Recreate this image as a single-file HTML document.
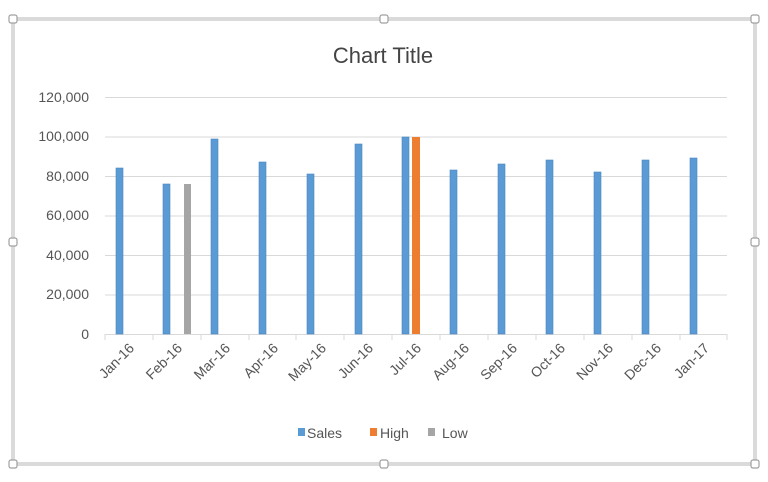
<!DOCTYPE html>
<html><head><style>body{margin:0;background:#fff}svg{display:block}</style></head><body>
<svg width="768" height="482" xmlns="http://www.w3.org/2000/svg" font-family="'Liberation Sans',sans-serif">
<rect x="0" y="0" width="768" height="482" fill="#fff"/>
<rect x="13" y="19" width="742" height="445" fill="none" stroke="#b4b4b4" stroke-width="3"/>
<rect x="13" y="19" width="742" height="445" fill="none" stroke="#fff" stroke-width="1"/>
<g fill="#fff" stroke="#a0a0a0" stroke-width="1.2">
<rect x="9" y="15" width="8" height="8" rx="2"/><rect x="380" y="15" width="8" height="8" rx="2"/><rect x="751" y="15" width="8" height="8" rx="2"/>
<rect x="9" y="238" width="8" height="8" rx="2"/><rect x="751" y="238" width="8" height="8" rx="2"/>
<rect x="9" y="460" width="8" height="8" rx="2"/><rect x="380" y="460" width="8" height="8" rx="2"/><rect x="751" y="460" width="8" height="8" rx="2"/>
</g>
<text x="383" y="63" font-size="22" fill="#444" text-anchor="middle">Chart Title</text>
<g stroke="#d9d9d9" stroke-width="1">
<line x1="105" x2="727" y1="97.5" y2="97.5"/><line x1="105" x2="727" y1="137" y2="137"/><line x1="105" x2="727" y1="176.5" y2="176.5"/><line x1="105" x2="727" y1="216" y2="216"/><line x1="105" x2="727" y1="255.5" y2="255.5"/><line x1="105" x2="727" y1="295" y2="295"/><line x1="105" x2="727" y1="334.5" y2="334.5"/>
</g>
<g font-size="14" fill="#555" text-anchor="end">
<text x="89" y="102">120,000</text><text x="89" y="141">100,000</text><text x="89" y="181">80,000</text><text x="89" y="220">60,000</text><text x="89" y="260">40,000</text><text x="89" y="299">20,000</text><text x="89" y="339">0</text>
</g>
<g stroke="#d9d9d9">
<line x1="105" x2="105" y1="334" y2="340"/><line x1="153" x2="153" y1="334" y2="340"/><line x1="201" x2="201" y1="334" y2="340"/><line x1="249" x2="249" y1="334" y2="340"/><line x1="296" x2="296" y1="334" y2="340"/><line x1="344" x2="344" y1="334" y2="340"/><line x1="392" x2="392" y1="334" y2="340"/><line x1="440" x2="440" y1="334" y2="340"/><line x1="488" x2="488" y1="334" y2="340"/><line x1="536" x2="536" y1="334" y2="340"/><line x1="584" x2="584" y1="334" y2="340"/><line x1="632" x2="632" y1="334" y2="340"/><line x1="680" x2="680" y1="334" y2="340"/><line x1="727" x2="727" y1="334" y2="340"/>
</g>
<g fill="#5b9bd5" stroke="#4a86c0" stroke-width="0.6">
<rect x="116" y="168" width="7" height="166"/>
<rect x="163" y="184" width="7" height="150"/>
<rect x="211" y="139" width="7" height="195"/>
<rect x="259" y="162" width="7" height="172"/>
<rect x="307" y="174" width="7" height="160"/>
<rect x="355" y="144" width="7" height="190"/>
<rect x="402" y="137" width="7" height="197"/>
<rect x="450" y="170" width="7" height="164"/>
<rect x="498" y="164" width="7" height="170"/>
<rect x="546" y="160" width="7" height="174"/>
<rect x="594" y="172" width="7" height="162"/>
<rect x="642" y="160" width="7" height="174"/>
<rect x="690" y="158" width="7" height="176"/>
</g>
<rect x="412" y="137" width="8" height="197" fill="#ed7d31"/>
<rect x="184" y="184" width="7" height="150" fill="#a5a5a5"/>
<g font-size="14" fill="#555" text-anchor="end">
<text transform="translate(135,349) rotate(-45)">Jan-16</text>
<text transform="translate(183,349) rotate(-45)">Feb-16</text>
<text transform="translate(231,349) rotate(-45)">Mar-16</text>
<text transform="translate(279,349) rotate(-45)">Apr-16</text>
<text transform="translate(327,349) rotate(-45)">May-16</text>
<text transform="translate(374,349) rotate(-45)">Jun-16</text>
<text transform="translate(422,349) rotate(-45)">Jul-16</text>
<text transform="translate(470,349) rotate(-45)">Aug-16</text>
<text transform="translate(518,349) rotate(-45)">Sep-16</text>
<text transform="translate(566,349) rotate(-45)">Oct-16</text>
<text transform="translate(614,349) rotate(-45)">Nov-16</text>
<text transform="translate(662,349) rotate(-45)">Dec-16</text>
<text transform="translate(710,349) rotate(-45)">Jan-17</text>
</g>
<rect x="298" y="428" width="7" height="8" fill="#5b9bd5"/>
<text x="307" y="438" font-size="14" fill="#555">Sales</text>
<rect x="370" y="428" width="7" height="8" fill="#ed7d31"/>
<text x="380" y="438" font-size="14" fill="#555">High</text>
<rect x="428" y="428" width="7" height="8" fill="#a5a5a5"/>
<text x="442" y="438" font-size="14" fill="#555">Low</text>
</svg>
</body></html>
